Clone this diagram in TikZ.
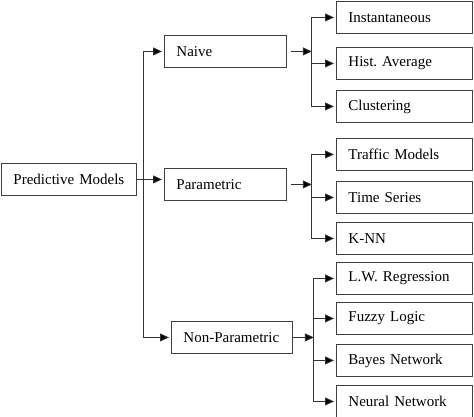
\documentclass[tikz,border=0pt]{standalone}
\usepackage{fontspec}
\setmainfont{Liberation Serif}
\usepackage{tikz}
\usetikzlibrary{arrows.meta}

\tikzset{
  box/.style={draw=black!75, line width=0.9pt, anchor=north west, inner xsep=12pt,
    inner ysep=0pt, minimum height=32pt, text width=#1, align=left,
    font=\fontsize{15}{18}\selectfont},
  arr/.style={draw=black!80, line width=0.9pt, -{Triangle[length=9pt,width=8pt,fill=black]},
    shorten >=2pt}
}

\begin{document}
\begin{tikzpicture}[x=1pt, y=-1pt]
\useasboundingbox (0,0) rectangle (474,417);

% Root and first level
\node[box=111pt] (pm) at (1,163) {Predictive Models};
\node[box=98pt] (naive) at (164,35) {Naive};
\node[box=98pt] (par) at (164,168) {Parametric};
\node[box=97pt] (nonpar) at (171,321) {\mbox{Non-Parametric}};

% Second level
\node[box=112pt] (inst) at (336,1) {Instantaneous};
\node[box=112pt] (hist) at (336,47) {Hist.\ Average};
\node[box=112pt] (clust) at (336,90) {Clustering};

\node[box=112pt] (traffic) at (336,138) {Traffic Models};
\node[box=112pt] (tseries) at (336,181) {Time Series};
\node[box=112pt] (knn) at (336,222) {K-NN};

\node[box=112pt] (lwr) at (336,262) {L.W.\ Regression};
\node[box=112pt] (fuzzy) at (336,302) {Fuzzy Logic};
\node[box=112pt] (bayes) at (336,344) {Bayes Network};
\node[box=112pt] (neural) at (336,385) {Neural Network};

% Trunk from the root
\draw[arr] (pm.east) -- (pm.east -| par.west);
\draw[arr] ([xshift=7pt]pm.east) |- (naive.west);
\draw[arr] ([xshift=7pt]pm.east) |- (nonpar.west);

% Naive branch
\draw[arr, shorten <=4pt, shorten >=0pt] (naive.east) -- ([xshift=25pt]naive.east);
\foreach \n in {inst, hist, clust}
  \draw[arr] ([xshift=25pt]naive.east) |- (\n.west);

% Parametric branch
\draw[arr, shorten <=4pt, shorten >=0pt] (par.east) -- ([xshift=25pt]par.east);
\foreach \n in {traffic, tseries, knn}
  \draw[arr] ([xshift=25pt]par.east) |- (\n.west);

% Non-parametric branch
\draw[arr, shorten >=0pt] (nonpar.east) -- ([xshift=21pt]nonpar.east);
\foreach \n in {lwr, fuzzy, bayes, neural}
  \draw[arr] ([xshift=21pt]nonpar.east) |- (\n.west);

\end{tikzpicture}
\end{document}
